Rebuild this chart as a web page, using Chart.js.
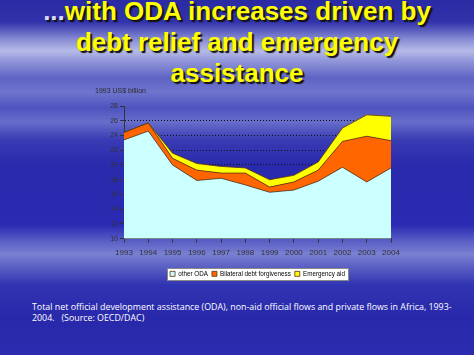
<!DOCTYPE html>
<html>
<head>
<meta charset="utf-8">
<script src="https://cdn.jsdelivr.net/npm/chart.js@4"></script>
<style>
  html, body { margin:0; padding:0; }
  body {
    width:474px; height:355px; overflow:hidden; position:relative;
    background: linear-gradient(to bottom,
      #2a2aa4 0px, #3232ab 22px, #8a8fd5 40px, #b6bae7 51px, #9499da 60px,
      #5e63c4 78px, #6f75cd 92px, #4e53bf 108px, #676dca 122px, #383bb3 140px,
      #2a2aae 165px, #2a2ab2 225px, #565bc4 240px, #7a80d1 254px, #585dc3 268px,
      #3134b2 285px, #2828aa 320px, #2c2cb0 355px);
  }
  #title {
    position:absolute; left:0; top:-4px; width:474px; text-align:center;
    font-family:"Liberation Sans", Arial, sans-serif; font-weight:bold;
    font-size:26px; line-height:31px; color:#ffff00;
    text-shadow: 2px 2px 1px #111;
  }
  #title .dots { color:#dcdcff; }
  #caption {
    position:absolute; left:32px; top:302px; width:442px;
    font-family:"Open Sans", "DejaVu Sans", sans-serif; font-size:8.85px; line-height:11px;
    color:#ffffff; white-space:pre;
  }
  #wrap { position:absolute; left:0; top:0; width:474px; height:355px; }
</style>
</head>
<body>
<div id="title"><span class="dots">...</span>with ODA increases driven by<br>debt relief and emergency<br>assistance</div>
<div id="caption">Total net official development assistance (ODA), non-aid official flows and private flows in Africa, 1993-
2004.   (Source: OECD/DAC)</div>
<div id="wrap"><canvas id="c" width="474" height="355"></canvas></div>
<script>
const years = ['1993','1994','1995','1996','1997','1998','1999','2000','2001','2002','2003','2004'];
const otherODA = [23.4, 24.6, 20.0, 17.9, 18.2, 17.3, 16.3, 16.6, 17.8, 19.7, 17.7, 19.6];
const debtForgiveness = [1.0, 1.1, 0.9, 1.4, 0.7, 1.6, 0.7, 1.1, 1.5, 3.5, 6.2, 3.7];
const emergencyAid = [0.0, 0.0, 0.7, 0.9, 0.9, 0.7, 1.0, 0.9, 1.1, 1.8, 2.9, 3.3];
const yTicks = [10, 12, 14, 16, 18, 20, 22, 24, 26, 28];
const axisUnit = '1993 US$ billion';

const legendBg = {
  id: 'legendBg',
  beforeDraw(chart) {
    const boxes = chart.legend && chart.legend.legendHitBoxes;
    if (!boxes || !boxes.length) return;
    let l = Infinity, t = Infinity, r = -Infinity, b = -Infinity;
    boxes.forEach(h => { l = Math.min(l, h.left); t = Math.min(t, h.top); r = Math.max(r, h.left + h.width); b = Math.max(b, h.top + h.height); });
    const ctx = chart.ctx;
    ctx.save();
    ctx.fillStyle = '#ffffff';
    ctx.strokeStyle = '#8a8a8a';
    ctx.lineWidth = 1;
    const x = Math.round(l - 3), y = Math.round(t - 3), w = Math.round(r - l + 6), h = Math.round(b - t + 6);
    ctx.fillRect(x, y, w, h);
    ctx.strokeRect(x + 0.5, y + 0.5, w, h);
    ctx.restore();
  },
  afterDraw(chart) {
    const ctx = chart.ctx, a = chart.chartArea;
    ctx.save();
    ctx.font = '7px "Liberation Sans", Arial, sans-serif';
    ctx.fillStyle = '#2a2a2a';
    ctx.textBaseline = 'middle';
    ctx.textAlign = 'left';
    ctx.fillText(axisUnit, a.left - 29, a.top - 15);
    ctx.restore();
  }
};

const edge = '#5a3410';
new Chart(document.getElementById('c'), {
  type: 'line',
  data: {
    labels: years,
    datasets: [
      { label: 'other ODA', data: otherODA, backgroundColor: '#ccffff', borderColor: edge, borderWidth: 0.8, fill: 'start', pointRadius: 0, tension: 0 },
      { label: 'Bilateral debt forgiveness', data: debtForgiveness, backgroundColor: '#ff6600', borderColor: edge, borderWidth: 0.8, fill: '-1', pointRadius: 0, tension: 0 },
      { label: 'Emergency aid', data: emergencyAid, backgroundColor: '#ffff00', borderColor: edge, borderWidth: 0.8, fill: '-1', pointRadius: 0, tension: 0 }
    ]
  },
  options: {
    responsive: false,
    animation: false,
    events: [],
    layout: { padding: { left: 100, right: 83, top: 106, bottom: 68 } },
    plugins: {
      title: { display: false },
      tooltip: { enabled: false },
      legend: {
        position: 'bottom',
        fullSize: false,
        labels: {
          boxWidth: 5, boxHeight: 5, padding: 4, color: '#000',
          font: { size: 6.3, family: '"Liberation Sans", Arial, sans-serif' }
        }
      }
    },
    scales: {
      x: {
        offset: false,
        grid: { drawOnChartArea: false, tickLength: 4, tickColor: '#333' },
        border: { display: true, color: '#333', width: 1 },
        ticks: { color: '#333', maxRotation: 0, autoSkip: false, padding: 5,
                 font: { size: 8, family: '"Liberation Sans", Arial, sans-serif' } },
        afterFit(s) { s.height = 28; }
      },
      y: {
        stacked: true,
        min: 10, max: 28,
        afterBuildTicks(s) { s.ticks = yTicks.map(v => ({ value: v })); },
        grid: {
          color: c => (c.tick && (c.tick.value === 28 || c.tick.value === 10)) ? 'rgba(0,0,0,0)' : '#111',
          lineWidth: 1, tickLength: 4, tickColor: '#333'
        },
        border: { display: true, color: '#333', width: 1, dash: [1, 2] },
        ticks: { color: '#333', padding: 2, autoSkip: false,
                 font: { size: 7, family: '"Liberation Sans", Arial, sans-serif' } },
        afterFit(s) { s.width = 24; }
      }
    }
  },
  plugins: [legendBg]
});
</script>
</body>
</html>
